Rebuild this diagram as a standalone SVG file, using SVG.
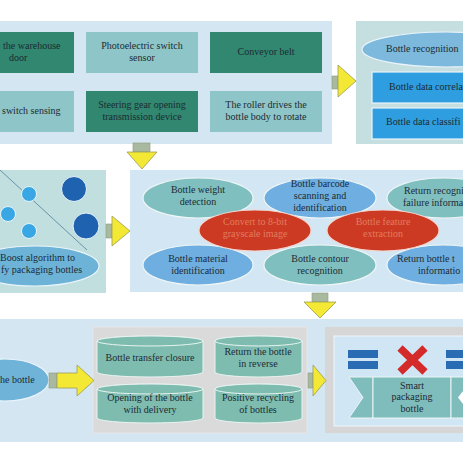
<svg xmlns="http://www.w3.org/2000/svg" width="463" height="463" viewBox="0 0 463 463">
<style>
text{font-family:"Liberation Serif","Times New Roman",serif;font-size:10px;fill:#1c2b33}
.c{text-anchor:middle}
.dk{fill:#31876f}
.lt{fill:#8ec5c8}
.bl{fill:#2e9ee0;stroke:#eaf4fb;stroke-width:1.2}
.et{fill:#80bfbf;stroke:#eef6f6;stroke-width:1.2}
.eb{fill:#6faee0;stroke:#eef6f6;stroke-width:1.2}
.er{fill:#cc3a24;stroke:#f3d6cf;stroke-width:1.2}
.rt{fill:#e27c5e}
.ah{fill:#f3e834;stroke:#9c9c58;stroke-width:0.8}
.st{fill:#a9b99f;stroke:#8a9a80;stroke-width:0.6}
.cy{fill:#7fbcb0;stroke:#e8f4f1;stroke-width:1}
.eq{fill:#2a6cb4}
.band{fill:#7fbcbc;stroke:#eaf5f5;stroke-width:1}
</style>
<rect width="463" height="463" fill="#ffffff"/>

<!-- top panel -->
<g id="top-panel">
<rect x="0" y="21" width="332" height="123" fill="#d4e6f1"/>
</g>
<g id="n-warehouse-door">
<rect class="dk" x="0" y="32" width="74" height="41"/>
<text x="3" y="49">the warehouse</text>
<text x="9" y="61">door</text>
</g>
<g id="n-photoelectric">
<rect class="lt" x="86" y="32" width="112" height="41"/>
<text class="c" x="142" y="49">Photoelectric switch</text>
<text class="c" x="142" y="61">sensor</text>
</g>
<g id="n-conveyor">
<rect class="dk" x="210" y="32" width="112" height="41"/>
<text class="c" x="266" y="55">Conveyor belt</text>
</g>
<g id="n-switch-sensing">
<rect class="lt" x="0" y="91" width="74" height="41"/>
<text x="2" y="114">switch sensing</text>
</g>
<g id="n-steering">
<rect class="dk" x="86" y="91" width="112" height="41"/>
<text class="c" x="142" y="108">Steering gear opening</text>
<text class="c" x="142" y="120">transmission device</text>
</g>
<g id="n-roller">
<rect class="lt" x="210" y="91" width="112" height="41"/>
<text class="c" x="266" y="108">The roller drives the</text>
<text class="c" x="266" y="120">bottle body to rotate</text>
</g>

<!-- top right panel -->
<g id="top-right-panel">
<rect x="356" y="21" width="110" height="123" fill="#c5dfe0"/>
</g>
<g id="n-recognition">
<ellipse cx="446" cy="49.5" rx="84" ry="17.5" fill="#7db9dc" stroke="#eaf4fb" stroke-width="1.2"/>
<text x="386" y="52">Bottle recognition</text>
</g>
<g id="n-correlation">
<rect class="bl" x="372" y="72" width="100" height="31"/>
<text x="389" y="90">Bottle data correla</text>
</g>
<g id="n-classification">
<rect class="bl" x="372" y="108" width="100" height="31"/>
<text x="386" y="125">Bottle data classifi</text>
</g>

<!-- middle left panel -->
<g id="mid-left-panel">
<rect x="0" y="170" width="106" height="123" fill="#c2dfdf"/>
<line x1="0" y1="170" x2="87" y2="250" stroke="#4f7f9c" stroke-width="0.8"/>
<circle cx="29" cy="194" r="7.5" fill="#3aa7e5" stroke="#e8f4fb" stroke-width="1"/>
<circle cx="8" cy="214" r="7.5" fill="#3aa7e5" stroke="#e8f4fb" stroke-width="1"/>
<circle cx="29" cy="231" r="7.5" fill="#3aa7e5" stroke="#e8f4fb" stroke-width="1"/>
<circle cx="74" cy="189" r="12.5" fill="#1f63b0" stroke="#e8f4fb" stroke-width="1"/>
<circle cx="86" cy="226" r="13" fill="#1f63b0" stroke="#e8f4fb" stroke-width="1"/>
</g>
<g id="n-boost">
<ellipse cx="35" cy="266" rx="64" ry="20" fill="#6db3d8" stroke="#eaf4fb" stroke-width="1.2"/>
<text x="0" y="261">Boost algorithm to</text>
<text x="1" y="273">fy packaging bottles</text>
</g>

<!-- middle panel -->
<g id="mid-panel">
<rect x="130" y="170" width="336" height="122" fill="#d3e6f3"/>
</g>
<g id="n-weight">
<ellipse class="et" cx="198" cy="198" rx="55" ry="20"/>
<text class="c" x="198" y="193">Bottle weight</text>
<text class="c" x="198" y="205">detection</text>
</g>
<g id="n-barcode">
<ellipse class="eb" cx="320" cy="198" rx="56" ry="20"/>
<text class="c" x="320" y="187">Bottle barcode</text>
<text class="c" x="320" y="199">scanning and</text>
<text class="c" x="320" y="211">identification</text>
</g>
<g id="n-return-fail">
<ellipse class="et" cx="443" cy="198" rx="56" ry="20"/>
<text x="404" y="194">Return recogni</text>
<text x="403" y="206">failure informa</text>
</g>
<g id="n-material">
<ellipse class="eb" cx="198" cy="265" rx="55" ry="20"/>
<text class="c" x="198" y="262">Bottle material</text>
<text class="c" x="198" y="274">identification</text>
</g>
<g id="n-contour">
<ellipse class="et" cx="320" cy="265" rx="56" ry="20"/>
<text class="c" x="320" y="262">Bottle contour</text>
<text class="c" x="320" y="274">recognition</text>
</g>
<g id="n-return-info">
<ellipse class="eb" cx="443" cy="265" rx="56" ry="20"/>
<text x="397" y="262">Return bottle t</text>
<text x="418" y="274">informatio</text>
</g>
<g id="n-grayscale">
<ellipse class="er" cx="255" cy="230.5" rx="56" ry="20.5"/>
<text class="c rt" x="255" y="225">Convert to 8-bit</text>
<text class="c rt" x="255" y="237">grayscale image</text>
</g>
<g id="n-feature">
<ellipse class="er" cx="383" cy="230.5" rx="56" ry="20.5"/>
<text class="c rt" x="383" y="225">Bottle feature</text>
<text class="c rt" x="383" y="237">extraction</text>
</g>

<!-- bottom panel -->
<g id="bottom-panel">
<rect x="0" y="319" width="466" height="123" fill="#d4e6f2"/>
<rect x="93" y="327" width="214" height="106" fill="#dadada" stroke="#e6e6e6" stroke-width="1"/>
<rect x="325" y="327" width="141" height="106" fill="#d6d6d6"/>
<rect x="334" y="336" width="132" height="90" fill="#d0e6f4" stroke="#eef6fb" stroke-width="1"/>
</g>
<g id="n-the-bottle">
<ellipse cx="5" cy="380" rx="44" ry="21" fill="#6fb3d9" stroke="#eaf4fb" stroke-width="1.2"/>
<text x="0" y="383">he bottle</text>
</g>
<g id="n-transfer">
<path class="cy" d="M97,341 A53,5 0 0 1 203,341 V372 A53,5 0 0 1 97,372 Z"/>
<ellipse class="cy" cx="150" cy="341" rx="53" ry="5"/>
<text class="c" x="150" y="361">Bottle transfer closure</text>
</g>
<g id="n-opening">
<path class="cy" d="M97,389 A53,5 0 0 1 203,389 V418 A53,5 0 0 1 97,418 Z"/>
<ellipse class="cy" cx="150" cy="389" rx="53" ry="5"/>
<text class="c" x="150" y="401">Opening of the bottle</text>
<text class="c" x="150" y="413">with delivery</text>
</g>
<g id="n-reverse">
<path class="cy" d="M215,341 A43.5,5 0 0 1 302,341 V372 A43.5,5 0 0 1 215,372 Z"/>
<ellipse class="cy" cx="258.5" cy="341" rx="43.5" ry="5"/>
<text class="c" x="258" y="355">Return the bottle</text>
<text class="c" x="258" y="367">in reverse</text>
</g>
<g id="n-recycling">
<path class="cy" d="M215,389 A43.5,5 0 0 1 302,389 V418 A43.5,5 0 0 1 215,418 Z"/>
<ellipse class="cy" cx="258.5" cy="389" rx="43.5" ry="5"/>
<text class="c" x="258" y="401">Positive recycling</text>
<text class="c" x="258" y="413">of bottles</text>
</g>
<g id="n-smart">
<rect class="eq" x="348" y="350" width="30" height="8"/>
<rect class="eq" x="348" y="361" width="30" height="8"/>
<rect class="eq" x="446" y="350" width="20" height="8"/>
<rect class="eq" x="446" y="361" width="20" height="8"/>
<path d="M400,348 L425,372 M425,348 L400,372" stroke="#d42a2a" stroke-width="7.5" fill="none"/>
<polygon class="band" points="349,377 373,377 373,418 349,418 363,397.5"/>
<rect class="band" x="373" y="377" width="78" height="41"/>
<rect class="band" x="451" y="377" width="15" height="41"/>
<polygon points="463,391 458,397.5 463,404" fill="#ffffff"/>
<text class="c" x="412" y="389">Smart</text>
<text class="c" x="412" y="400">packaging</text>
<text class="c" x="412" y="412">bottle</text>
</g>

<!-- connectors -->
<g id="connectors">
<rect class="st" x="332" y="76" width="6" height="13"/>
<polygon class="ah" points="338,65 356,81 338,97"/>
<rect class="st" x="133" y="143" width="17" height="9"/>
<polygon class="ah" points="127,152 157,152 142,169"/>
<rect class="st" x="106" y="224" width="6" height="14"/>
<polygon class="ah" points="112,216 130,231 112,246"/>
<rect class="st" x="312" y="293" width="16" height="9"/>
<polygon class="ah" points="304,302 336,302 320,318"/>
<rect class="st" x="49" y="373" width="8" height="15"/>
<polygon class="ah" points="57,373 77,373 77,365 94,380.5 77,396 77,388 57,388"/>
<rect class="st" x="308" y="373" width="5" height="15"/>
<polygon class="ah" points="313,365 326,380.5 313,396"/>
</g>
</svg>
